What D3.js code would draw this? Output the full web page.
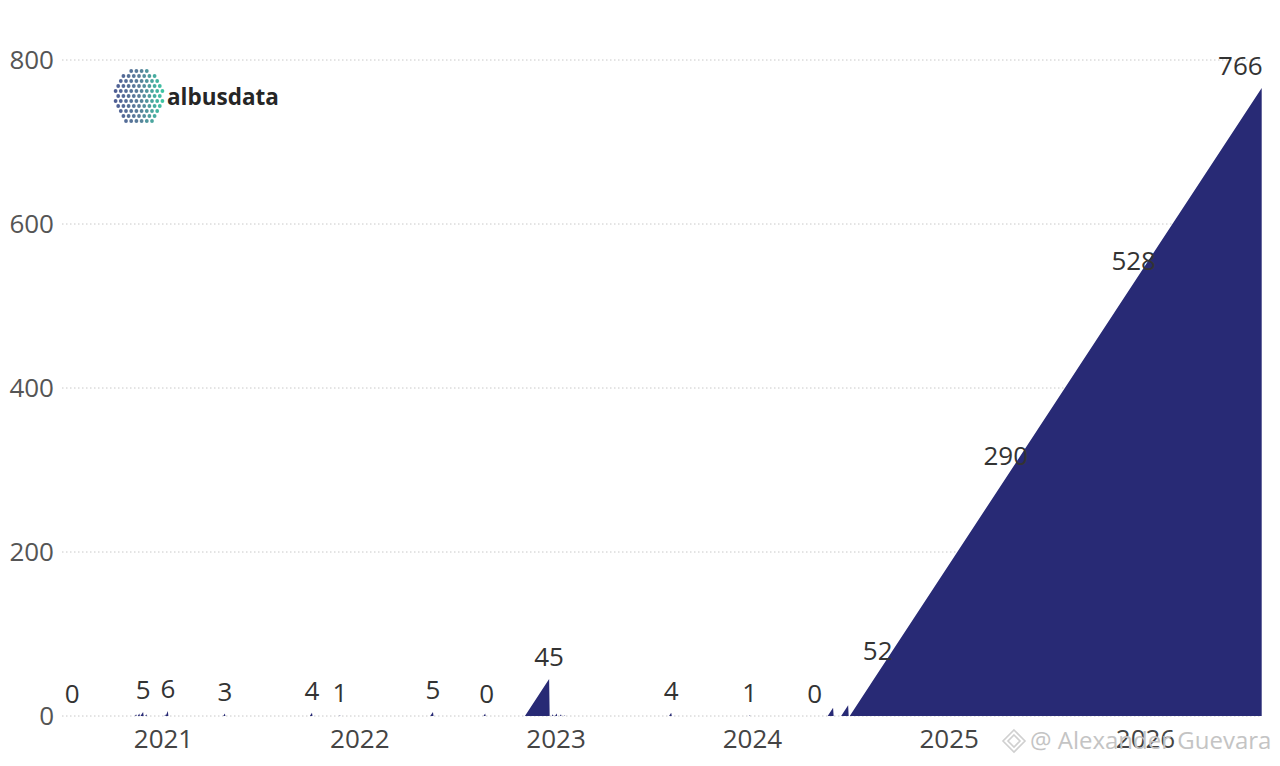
<!DOCTYPE html>
<html>
<head>
<meta charset="utf-8">
<script src="https://cdn.jsdelivr.net/npm/d3@7"></script>
<style>
  html, body { margin: 0; padding: 0; background: #fff; }
  svg { display: block; font-family: "Open Sans", "Noto Sans", sans-serif; }
</style>
</head>
<body>
<svg id="chart" width="1280" height="766"></svg>
<script>
// ---- data ----
const dates = [
  "2020-07-16", "2020-11-10", "2020-11-12", "2020-11-13", "2020-11-15", "2020-11-18", "2020-11-19",
  "2020-11-20", "2020-11-25", "2020-11-26", "2020-11-29", "2020-12-01", "2020-12-02",
  "2021-01-03", "2021-01-05", "2021-01-06", "2021-01-04", "2021-01-10", "2021-01-11",
  "2021-04-23", "2021-04-26", "2021-04-27",
  "2021-10-01", "2021-10-05", "2021-10-06",
  "2021-11-25", "2021-11-26", "2021-11-27",
  "2022-05-13", "2022-05-18", "2022-05-19",
  "2022-08-20", "2022-08-23", "2022-08-24", "2022-08-26",
  "2022-11-05", "2022-12-20", "2022-12-21",
  "2022-12-25", "2022-12-27", "2022-12-28", "2022-12-31", "2023-01-03", "2023-01-04",
  "2023-01-09", "2023-01-11", "2023-01-12", "2023-01-17", "2023-01-18", "2023-01-19",
  "2023-07-31", "2023-08-04", "2023-08-05",
  "2023-12-27", "2023-12-28", "2023-12-29",
  "2024-04-27",
  "2024-05-21", "2024-05-31", "2024-06-01",
  "2024-06-15", "2024-06-28", "2024-06-29",
  "2024-07-01", "2024-08-22", "2025-04-17", "2025-12-11", "2026-08-06"
];
const values = [
  0, 0, 2, 0, 0, 3, 0,
  0, 5, 0, 0, 2, 0,
  0, 2, 0, 0, 6, 0,
  0, 3, 0,
  0, 4, 0,
  0, 1, 0,
  0, 5, 0,
  0, 3, 0, 0,
  0, 45, 0,
  0, 2, 0, 0, 3, 0,
  0, 2, 0, 0, 1, 0,
  0, 4, 0,
  0, 1, 0,
  0,
  0, 10, 0,
  0, 13, 0,
  0, 52, 290, 528, 766
];
// dates of the points that carry a data label
const labelDates = [
  "2020-07-16", "2020-11-25", "2021-01-10", "2021-04-26", "2021-10-05", "2021-11-26",
  "2022-05-18", "2022-08-26", "2022-12-20", "2023-08-04", "2023-12-28", "2024-04-27",
  "2024-08-22", "2025-04-17", "2025-12-11", "2026-08-06"
];
const yTicks = [0, 200, 400, 600, 800];
const yearTicks = ["2021", "2022", "2023", "2024", "2025", "2026"];
const watermarkText = "@ Alexander Guevara";
const logoText = "albusdata";

// ---- setup ----
const parse = d3.timeParse("%Y-%m-%d");
const points = dates.map((d, i) => ({ date: parse(d), value: values[i] }))
  .sort((a, b) => a.date - b.date);
const labelSet = new Set(labelDates);
const labelPoints = dates.map((d, i) => ({ key: d, date: parse(d), value: values[i] }))
  .filter(p => labelSet.has(p.key));

const svg = d3.select("#chart");
const plotLeft = 62, plotRight = 1262;
const FS = 26;

const x = d3.scaleTime()
  .domain([parse("2021-01-01"), parse("2026-01-01")])
  .range([163, 1145]);
const y = d3.scaleLinear().domain([0, 800]).range([716, 60]);

// gridlines
svg.append("g").selectAll("line").data(yTicks).join("line")
  .attr("x1", plotLeft).attr("x2", plotRight)
  .attr("y1", d => y(d)).attr("y2", d => y(d))
  .attr("stroke", "#c8c8c8").attr("stroke-width", 1)
  .attr("stroke-dasharray", "1.5,2.5");

// y axis
const yAxis = d3.axisLeft(y).tickValues(yTicks).tickSize(0).tickPadding(0);
const gy = svg.append("g").attr("transform", "translate(54,0)").call(yAxis);
gy.select(".domain").remove();
gy.selectAll("text").attr("font-size", FS).attr("fill", "#555")
  .attr("font-family", '"Open Sans", sans-serif');

// x axis
const xAxis = d3.axisBottom(x)
  .tickValues(yearTicks.map(t => parse(t + "-01-01")))
  .tickFormat(d3.timeFormat("%Y")).tickSize(0).tickPadding(0);
const gx = svg.append("g").attr("transform", "translate(0,723)").call(xAxis);
gx.select(".domain").remove();
gx.selectAll("text").attr("font-size", FS).attr("fill", "#444")
  .attr("dy", "0.95em").attr("font-family", '"Open Sans", sans-serif');

// area
const area = d3.area()
  .x(d => x(d.date)).y0(y(0)).y1(d => y(d.value))
  .curve(d3.curveLinear);
svg.append("path").datum(points)
  .attr("d", area).attr("fill", "#282a75");

// data labels
svg.append("g").selectAll("text").data(labelPoints).join("text")
  .attr("x", d => x(d.date))
  .attr("y", d => y(d.value) - 13)
  .attr("text-anchor", d => d.value === 766 ? "end" : "middle")
  .attr("dx", d => d.value === 766 ? 1 : 0)
  .attr("font-size", FS).attr("fill", "#333")
  .text(d => d.value);

// logo
const logo = svg.append("g").attr("transform", "translate(139,98)");
const grad = d3.scaleLinear().domain([-24, 0, 24]).range(["#4f5e94", "#5a7d9a", "#3cc6a2"]);
const dots = [];
for (let gyy = -27; gyy <= 27; gyy += 5) {
  for (let gxx = -26; gxx <= 26; gxx += 5.2) {
    const off = (Math.round(gyy / 5) % 2) ? 2.6 : 0;
    const px = gxx + off;
    if ((px * px) / (25 * 25) + (gyy * gyy) / (30 * 30) <= 1) dots.push([px, gyy]);
  }
}
logo.selectAll("circle").data(dots).join("circle")
  .attr("cx", d => d[0]).attr("cy", d => d[1]).attr("r", 1.9)
  .attr("fill", d => grad(d[0]));
svg.append("text").attr("x", 167).attr("y", 105)
  .attr("font-size", 22.5).attr("font-weight", 700)
  .attr("font-family", '"Open Sans", sans-serif')
  .attr("fill", "#262626").text(logoText);

// watermark
const wm = svg.append("g");
wm.append("path")
  .attr("d", "M1014,730 L1025,741 L1014,752 L1003,741 Z M1014,735 L1020,741 L1014,747 L1008,741 Z")
  .attr("fill", "none").attr("stroke", "#d0d0d0").attr("stroke-width", 1.6);
wm.append("text").attr("x", 1030).attr("y", 749)
  .attr("font-size", 24).attr("fill", "#c4c4c4").text(watermarkText);
</script>
</body>
</html>
